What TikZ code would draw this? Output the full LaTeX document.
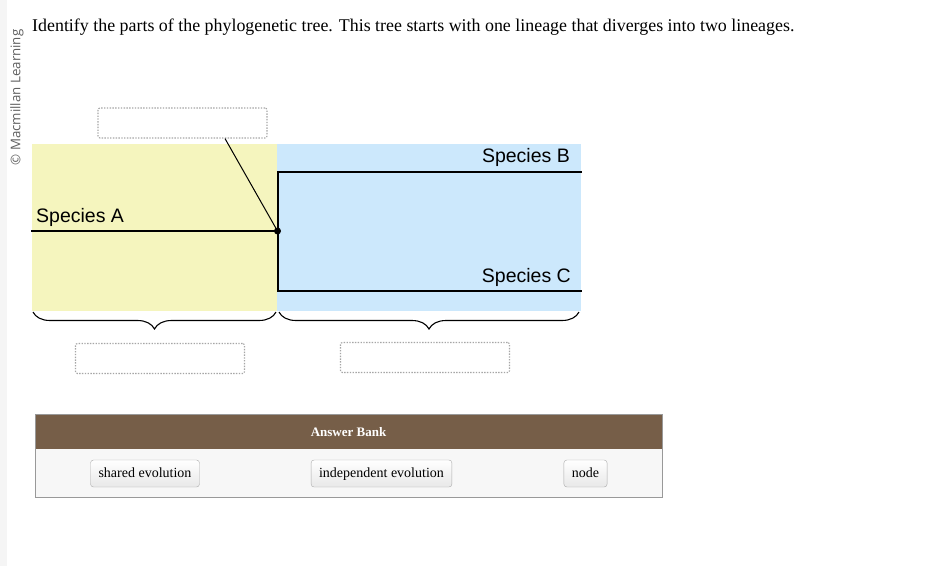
\documentclass[tikz,border=0pt]{standalone}
\usepackage{fontspec}
\setmainfont{Liberation Serif}
\newfontfamily\spfont{Liberation Sans}
\newfontfamily\cpfont{Open Sans}
\usetikzlibrary{decorations.pathreplacing}
\definecolor{yel}{HTML}{F5F5BE}
\definecolor{blu}{HTML}{CCE8FC}
\definecolor{brn}{HTML}{765E48}
\definecolor{bankbg}{HTML}{F7F7F7}
\tikzset{
  dropbox/.style={draw=gray!70, line width=1.1pt, dash pattern=on 1.4pt off 1.4pt, rounded corners=2pt, minimum width=169pt, minimum height=30pt, inner sep=0pt},
  tree/.style={line width=2.2pt, line cap=rect},
  spec/.style={font=\spfont\fontsize{19.5}{22}\selectfont, inner sep=0pt},
  bracestyle/.style={decorate, decoration={brace, mirror, amplitude=17pt}, line width=1.1pt},
  btn/.style={draw=gray!65, rounded corners=3pt, top color=white, bottom color=gray!18, minimum height=27pt, inner xsep=8pt, text height=10pt, text depth=3pt, font=\fontsize{14}{16}\selectfont},
}
\begin{document}
\begin{tikzpicture}[x=1pt,y=-1pt]
\useasboundingbox (0,0) rectangle (951,566);
\fill[white] (0,0) rectangle (951,566);
\fill[gray!8] (0,0) rectangle (7,566);
\node[rotate=90, anchor=center, text=gray!75!black, font=\cpfont\fontsize{13.3}{15}\selectfont, inner sep=0pt] (copy) at (17,97.5) {© Macmillan Learning};
\node[anchor=base west, inner sep=0pt, font=\fontsize{17.9}{21}\selectfont] (title) at (32,31) {Identify the parts of the phylogenetic tree. This tree starts with one lineage that diverges into two lineages.};
% backgrounds
\fill[yel] (32,144) rectangle (277,311);
\fill[blu] (277,144) rectangle (581,311);
% tree
\node[circle, fill=black, inner sep=0pt, minimum size=7pt] (nd) at (277.5,231) {};
\draw[tree] (32,231) -- (nd.center);
\draw[tree] (581,172) -- (278,172) -- (278,291) -- (581,291);
\node[spec, anchor=base east] (sb) at (570,162) {Species B};
\node[spec, anchor=base east] (sc) at (571,282) {Species C};
\node[spec, anchor=base west] (sa) at (36,222) {Species A};
% drop boxes
\node[dropbox] (d1) at (182.5,123) {};
\draw[line width=1pt] ([xshift=42.5pt]d1.south) -- (nd.center);
\draw[bracestyle] (33,312) -- (276,312);
\draw[bracestyle] (279,312) -- (579,312);
\node[dropbox] (d2) at (160,358.5) {};
\node[dropbox] (d3) at (425,357.5) {};
% answer bank
\fill[bankbg] (35,449) rectangle (662,497);
\fill[brn] (35,414) rectangle (662,449);
\draw[gray!80, line width=1pt] (35,414) rectangle (662,497);
\node[text=white, font=\bfseries\fontsize{13}{15}\selectfont, inner sep=0pt] (ab) at (348.5,432) {Answer Bank};
\node[btn] (b1) at (145,473.5) {shared evolution};
\node[btn] (b2) at (381.5,473.5) {independent evolution};
\node[btn] (b3) at (585.5,473.5) {node};
\end{tikzpicture}
\end{document}
